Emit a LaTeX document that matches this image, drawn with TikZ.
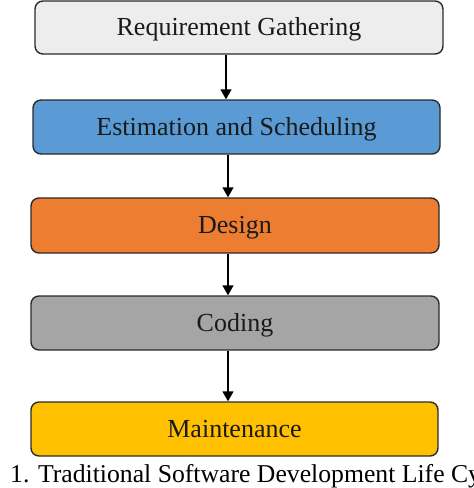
\documentclass[tikz,border=0pt]{standalone}
\usepackage{fontspec}
\setmainfont{Liberation Serif}
\usetikzlibrary{arrows.meta}
\definecolor{cgray}{HTML}{EDEDED}
\definecolor{cblue}{HTML}{5B9BD5}
\definecolor{corange}{HTML}{ED7D31}
\definecolor{cmid}{HTML}{A5A5A5}
\definecolor{cgold}{HTML}{FFC000}
\definecolor{cedge}{HTML}{2B2B2B}
\definecolor{ctext}{HTML}{1A1A1A}
\tikzset{
  phase/.style={draw=cedge, line width=1.4pt, rounded corners=8pt,
    minimum width=407pt, minimum height=54pt, inner sep=0pt,
    text=ctext, font=\fontsize{26}{30}\selectfont,
    text height=18pt, text depth=2pt},
  arr/.style={draw=black, line width=1.5pt, -{Triangle[length=10pt,width=11pt]}},
  capt/.style={font=\fontsize{25.7}{30}\selectfont, text=black, inner sep=0pt, anchor=base west}
}
\begin{document}
\begin{tikzpicture}[x=1pt,y=-1pt]
\useasboundingbox (0,0) rectangle (474,488);
\node[phase, fill=cgray, minimum width=408pt, minimum height=53pt] (b1) at (239,27.5) {Requirement Gathering};
\node[phase, fill=cblue] (b2) at (236.5,127) {Estimation and Scheduling};
\node[phase, fill=corange, minimum width=408pt, minimum height=55pt] (b3) at (235,225.5) {Design};
\node[phase, fill=cmid, minimum width=408pt] (b4) at (235,323) {Coding};
\node[phase, fill=cgold] (b5) at (234.5,429) {Maintenance};
\draw[arr] ([xshift=-13pt]b1.south) -- ([xshift=-13pt]b1.south |- b2.north);
\draw[arr] ([xshift=-8.5pt]b2.south) -- ([xshift=-8.5pt]b2.south |- b3.north);
\draw[arr] ([xshift=-7pt]b3.south) -- ([xshift=-7pt]b3.south |- b4.north);
\draw[arr] ([xshift=-7pt]b4.south) -- ([xshift=-7pt]b4.south |- b5.north);
\node[capt] (cap) at (10,482) {1. Traditional Software Development Life Cy};
\end{tikzpicture}
\end{document}
